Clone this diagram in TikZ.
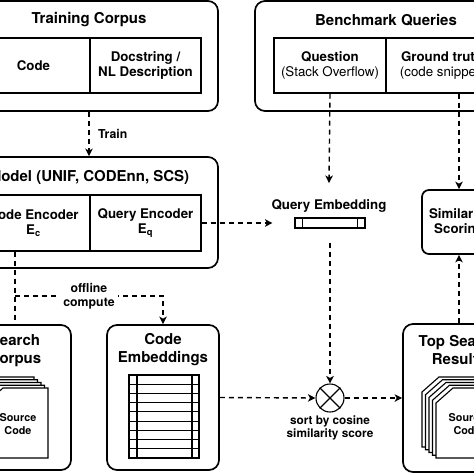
\documentclass[tikz,border=0pt]{standalone}
\usepackage{fontspec}
\setmainfont{TeX Gyre Heros}
\usetikzlibrary{arrows.meta, calc, positioning}
\newcommand{\drawthin}{\draw[line width=1.1pt]}
% stack of source files, #1,#2 = top left corner of the front sheet
\newcommand{\docstack}[2]{%
  \foreach \k in {4,3,2,1,0}
    \drawthin[fill=white, shift={({#1-3.5*\k},{#2-2.75*\k})}] (0,15) -- (17,0) -- (62,0) -- (62,70) -- (0,70) -- cycle;
}
\tikzset{
  bigbox/.style={draw, rectangle, line width=1.7pt, rounded corners=10pt},
  cellbox/.style={draw, rectangle, line width=1.1pt, align=center, font=\bfseries\fontsize{13.3}{14.5}\selectfont},
  boxtitle/.style={align=center, font=\bfseries\fontsize{15}{18}\selectfont},
  smalltext/.style={align=center, font=\bfseries\fontsize{12.3}{14}\selectfont},
  dline/.style={dash pattern=on 5pt off 4pt, line width=1.4pt},
  flowline/.style={dline, ->},
}

\begin{document}
\begin{tikzpicture}[x=1pt, y=-1pt, >={Stealth[length=7.5pt,width=7.5pt,inset=2pt]}]
\clip (0,0) rectangle (474,474);
\useasboundingbox (0,0) rectangle (474,474);

% Training corpus
\node[bigbox, minimum width=258pt, minimum height=110pt] (train) at (89,56) {};
\node[boxtitle] (traint) at (89,20) {Training Corpus};
\node[cellbox, minimum width=113pt, minimum height=55pt] (code) at (33.5,65.5) {Code};
\node[cellbox, minimum width=111pt, minimum height=55pt] (doc) at (145.5,65.5) {Docstring /\\NL Description};

% Benchmark queries
\node[bigbox, minimum width=262pt, minimum height=110pt] (bench) at (386,56) {};
\node[boxtitle] (bencht) at (386,20) {Benchmark Queries};
\node[cellbox, minimum width=112pt, minimum height=55pt] (quest) at (330,65.5) {Question\\{\mdseries (Stack Overflow)}};
\node[cellbox, minimum width=112pt, minimum height=55pt] (truth) at (442,65.5) {Ground truth\\{\mdseries (code snippet)}};

% Model
\node[bigbox, minimum width=258pt, minimum height=111pt] (model) at (89,212.5) {};
\node[boxtitle] (modelt) at (89,177) {Model (UNIF, CODEnn, SCS)};
\node[cellbox, minimum width=113pt, minimum height=56pt] (cenc) at (33.5,223) {Code Encoder\\E\textsubscript{c}};
\node[cellbox, minimum width=111pt, minimum height=56pt] (qenc) at (145.5,223) {Query Encoder\\E\textsubscript{q}};

% Query embedding
\node[draw, rectangle, line width=1.1pt, minimum width=70pt, minimum height=10pt, inner sep=0pt] (qemb) at (330,223) {};
\drawthin ([xshift=8pt]qemb.north west) -- ([xshift=8pt]qemb.south west);
\drawthin ([xshift=-8pt]qemb.north east) -- ([xshift=-8pt]qemb.south east);
\node[smalltext, font=\bfseries\fontsize{13.3}{15}\selectfont] (qembt) at (329,206) {Query Embedding};

% Similarity scoring
\node[bigbox, rounded corners=7pt, minimum width=74pt, minimum height=64pt, align=center, font=\bfseries\fontsize{13.3}{15}\selectfont] (sim) at (459,222) {Similarity\\Scoring};

% Search corpus
\node[bigbox, minimum width=112pt, minimum height=145pt] (corpus) at (15,397.5) {};
\node[boxtitle] (corpust) at (15,351) {Search\\Corpus};
\docstack{-14}{388}
\node[align=center, font=\bfseries\fontsize{10.8}{12.5}\selectfont] (srca) at (18,424) {Source\\Code};

% Code embeddings
\node[bigbox, minimum width=112pt, minimum height=145pt] (cemb) at (163,397.5) {};
\node[boxtitle] (cembt) at (163,350) {Code\\Embeddings};
\drawthin (129,375) rectangle (199,458);
\foreach \r in {1,...,8}
  \drawthin (129,{375+\r*83/9}) -- (199,{375+\r*83/9});
\drawthin (137,375) -- (137,458);
\drawthin (192,375) -- (192,458);

% Top search results
\node[bigbox, minimum width=112pt, minimum height=148pt] (top) at (459,398) {};
\node[boxtitle] (topt) at (459,350.5) {Top Search\\Results};
\docstack{436}{388}
\node[align=center, font=\bfseries\fontsize{10.8}{12.5}\selectfont] (srcb) at (467,424) {Source\\Code};

% Ranking
\node[draw, circle, line width=1.1pt, minimum size=28pt, inner sep=0pt] (sortc) at (330,398) {};
\drawthin (sortc.north west) -- (sortc.south east);
\drawthin (sortc.north east) -- (sortc.south west);
\node[smalltext, font=\bfseries\fontsize{11.8}{13}\selectfont] (sortt) at (330,427.5) {sort by cosine\\similarity score};

% Connectors
\draw[flowline] (train.south) -- (model.north) node[midway, right=5pt, smalltext] (trainl) {Train};
\draw[flowline] (quest.south) -- ([yshift=13pt]qembt.north);
\draw[flowline, shorten >=22pt] (qenc.east) -- (qemb.west);
\draw[flowline, shorten <=14pt] (qemb.south) -- (sortc.north);
\draw[flowline] (cemb.east) -- (sortc.west);
\draw[flowline] (sortc.east) -- (top.west);
\draw[flowline] (truth.south -| sim.north) -- (sim.north);
\draw[flowline] (top.north) -- (sim.south);
\draw[dline] (cenc.south -| corpus.north) -- (corpus.north);
\coordinate (branch) at (15,296);
\draw[flowline] (branch) -| (cemb.north) node[pos=0.25, smalltext, fill=white] (offl) {offline\\compute};

\end{tikzpicture}
\end{document}
